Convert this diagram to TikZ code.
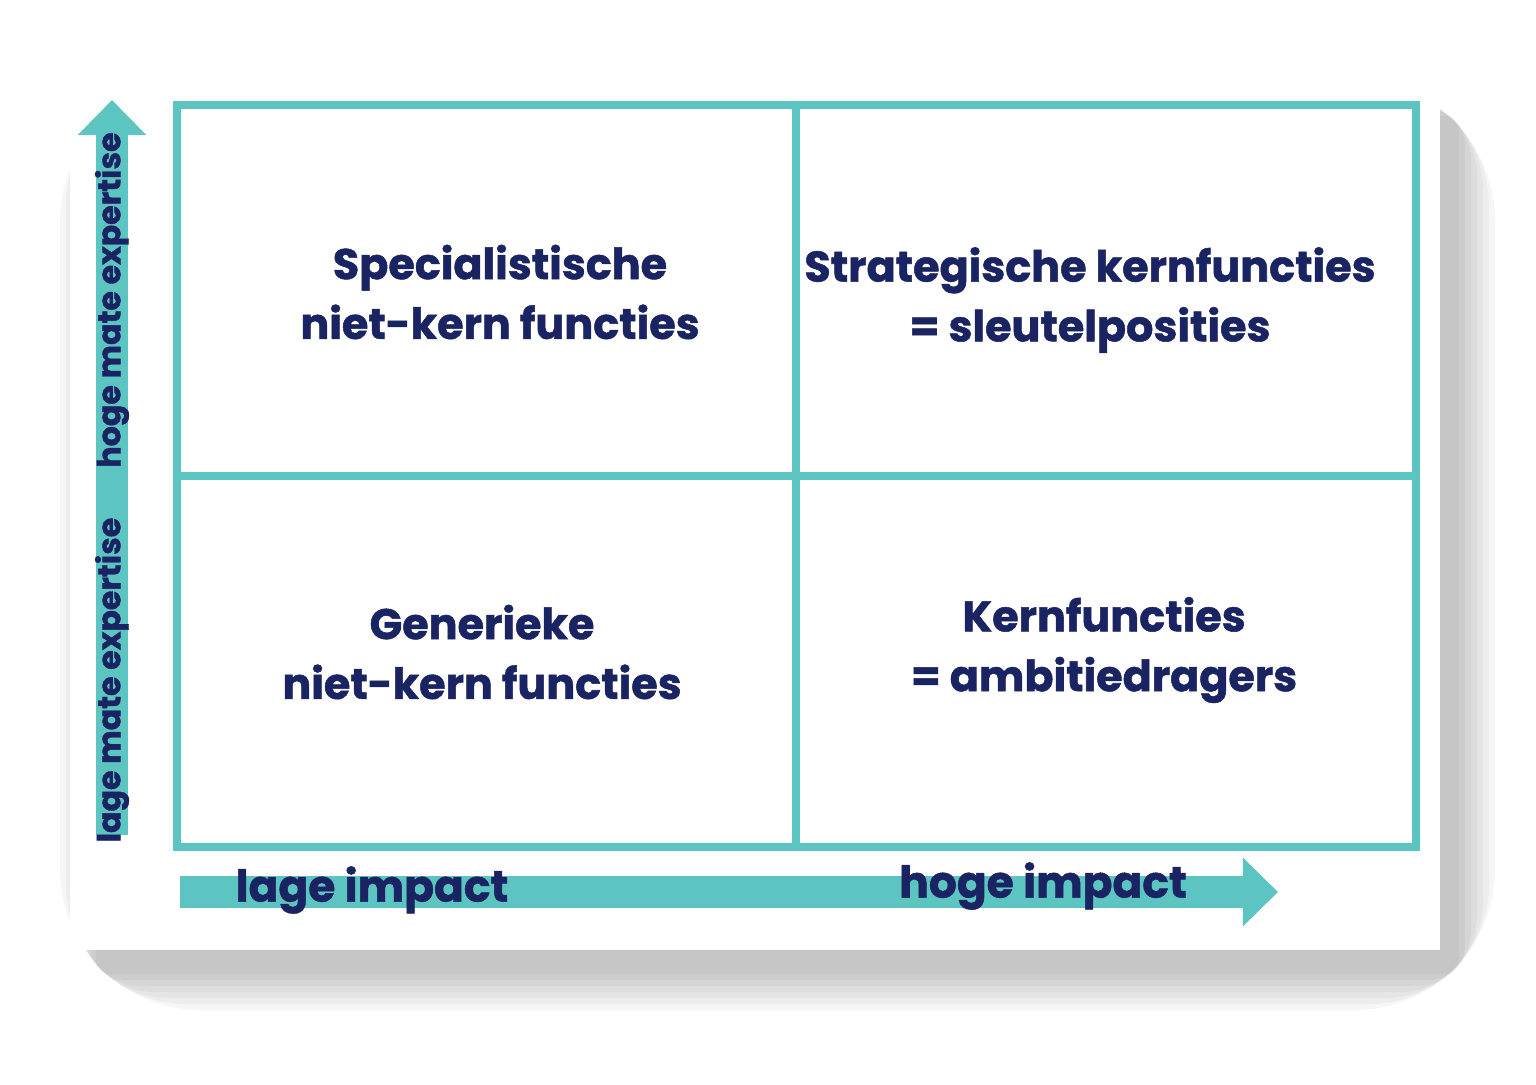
\documentclass[tikz,border=0pt]{standalone}
\usepackage{fontspec}
\setmainfont{Poppins}[FakeBold=1.2]
\usetikzlibrary{arrows.meta}
\definecolor{teal}{HTML}{5CC5C1}
\definecolor{navy}{HTML}{1B2462}
\tikzset{
    cell/.style={draw=teal, line width=2.2pt},
    quad/.style={text=navy, align=center, font=\fontsize{12.2}{17}\selectfont\bfseries},
    axis/.style={text=navy, font=\fontsize{9}{11}\selectfont\bfseries},
    bigarrow/.style={teal, line width=9pt, -{Triangle[length=10pt, width=19pt]}}
}
\begin{document}
\begin{tikzpicture}[x=0.01cm, y=-0.01cm]
\useasboundingbox (0,0) rectangle (1536,1084);
% shadow
\foreach \d in {40,34,...,4}
    \fill[black, opacity=0.035, rounded corners=\d] (100-\d,100-\d+20) rectangle (1465+\d-10,990+\d-20);
\fill[white] (70,70) rectangle (1440,950);
% grid
\draw[cell] (177,105) rectangle (1416,847);
\draw[cell] (796,105) -- (796,847);
\draw[cell] (177,476) -- (1416,476);
% quadrant labels
\node[quad] (tl) at (500,292) {Specialistische\\niet-kern functies};
\node[quad] (tr) at (1090,300) {Strategische kernfuncties\\= sleutelposities};
\node[quad] (bl) at (482,652) {Generieke\\niet-kern functies};
\node[quad] (br) at (1104,650) {Kernfuncties\\= ambitiedragers};
% axes
\coordinate (ybot) at (112,835);
\coordinate (ytop) at (112,100);
\coordinate (xleft) at (180,892);
\coordinate (xright) at (1278,892);
\draw[bigarrow] (ybot) -- (ytop);
\draw[bigarrow] (xleft) -- (xright);
\node[axis, rotate=90] (lowexp) at (112,680) {lage mate expertise};
\node[axis, rotate=90] (highexp) at (112,300) {hoge mate expertise};
\node[axis, font=\fontsize{12.5}{14}\selectfont\bfseries] (lowimp) at (372,890) {lage impact};
\node[axis, font=\fontsize{12.5}{14}\selectfont\bfseries] (highimp) at (1043,886) {hoge impact};
\end{tikzpicture}
\end{document}
